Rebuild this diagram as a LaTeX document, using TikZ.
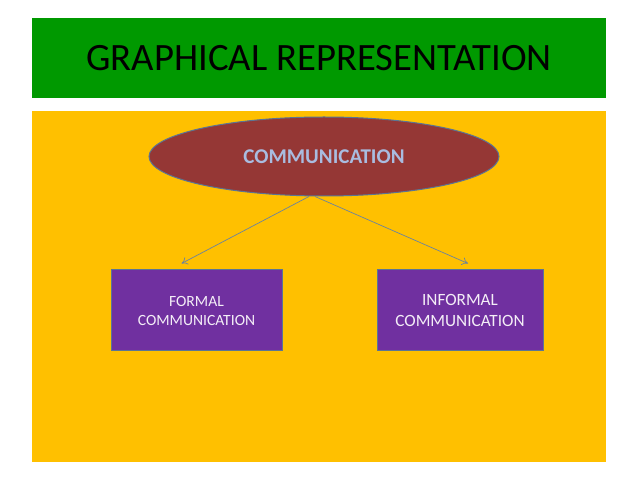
\documentclass[tikz,border=0pt]{standalone}
\usepackage{fontspec}
\setmainfont{Carlito}
\usetikzlibrary{positioning,shapes.geometric,arrows.meta}
\definecolor{bandgreen}{HTML}{009900}
\definecolor{slideyellow}{HTML}{FFC000}
\definecolor{ovalred}{HTML}{953735}
\definecolor{edgeblue}{HTML}{5B7594}
\definecolor{textblue}{HTML}{A9BCE0}
\definecolor{boxpurple}{HTML}{7030A0}
\tikzset{every picture/.style={line width=0.8pt}}

\begin{document}
\begin{tikzpicture}[x=1pt, y=-1pt,
    band/.style={rectangle, inner sep=0pt, minimum width=574pt},
    typebox/.style={draw=edgeblue, line width=1pt, fill=boxpurple, rectangle, align=center, minimum height=81pt, text=white!92!boxpurple, font=\fontsize{15.6}{19}\selectfont},
    link/.style={-{To[length=6pt,width=8pt]}, edgeblue!90!white, line width=0.7pt}]
    % Background
    \fill[white] (0,0) rectangle (638,478);
    \useasboundingbox (0,0) rectangle (638,478);

    % Title band and slide area
    \node[band, fill=bandgreen, minimum height=80pt, font=\fontsize{38.7}{44}\selectfont] (title) at (319,58) {GRAPHICAL REPRESENTATION};
    \node[band, fill=slideyellow, minimum height=351pt] (slide) at (319,286.5) {};

    % Central oval
    \node[draw=edgeblue, line width=1pt, fill=ovalred, ellipse, minimum width=350pt, minimum height=79pt, inner sep=0pt, text=textblue, font=\bfseries\fontsize{21}{24}\selectfont] (comm) at (324,156.5) {COMMUNICATION};

    % Two kinds
    \node[typebox, minimum width=171pt] (formal) at (196.5,310.5) {FORMAL\\COMMUNICATION};
    \node[typebox, minimum width=166pt, font=\fontsize{17.2}{21}\selectfont] (informal) at (460,310.5) {INFORMAL\\COMMUNICATION};

    % Connections
    \draw[link] ([xshift=-15pt]comm.south) -- ([shift={(-15,-6)}]formal.north);
    \draw[link] ([xshift=-9pt]comm.south) -- ([shift={(8,-6)}]informal.north);
\end{tikzpicture}
\end{document}
